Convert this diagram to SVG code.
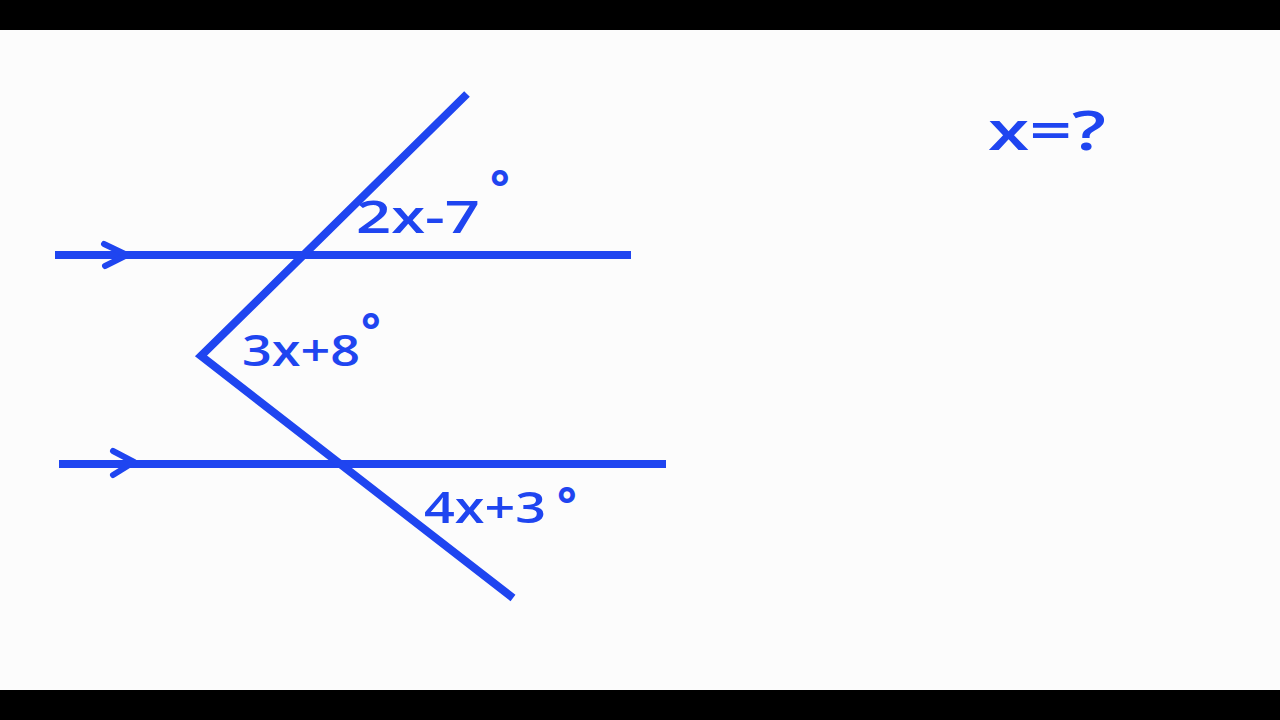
<svg xmlns="http://www.w3.org/2000/svg" width="1280" height="720" viewBox="0 0 1280 720">
<style>
.ln{stroke:#1f45f0;stroke-width:8;fill:none;stroke-linecap:butt;stroke-linejoin:miter}
.ar{stroke:#1f45f0;stroke-width:6;fill:none;stroke-linecap:round;stroke-linejoin:round}
.t{font-family:"Open Sans","Liberation Sans",sans-serif;fill:#1f45f0;font-weight:600}
.d{font-size:46px;font-weight:700}
</style>
<rect x="0" y="0" width="1280" height="720" fill="#fcfcfc"/>
<rect x="0" y="0" width="1280" height="30" fill="#000"/>
<rect x="0" y="690" width="1280" height="30" fill="#000"/>
<g id="connectors">
<line class="ln" x1="55" y1="255" x2="631" y2="255"/>
<line class="ln" x1="59" y1="464" x2="666" y2="464"/>
<polyline class="ln" points="467,94 201,356 513,598"/>
<polyline class="ar" points="104,244 127,255 105,266"/>
<polyline class="ar" points="113,451 134,462 113,475"/>
</g>
<g id="label-top">
<text class="t" font-size="46"><tspan x="356" y="233" textLength="124" lengthAdjust="spacingAndGlyphs">2x-7</tspan><tspan class="d" x="490" y="204">°</tspan></text>
</g>
<g id="label-mid">
<text class="t" font-size="44"><tspan x="242" y="366" textLength="118" lengthAdjust="spacingAndGlyphs">3x+8</tspan><tspan class="d" x="361" y="347">°</tspan></text>
</g>
<g id="label-bot">
<text class="t" font-size="44"><tspan x="424" y="523" textLength="122" lengthAdjust="spacingAndGlyphs">4x+3</tspan><tspan class="d" x="557" y="521">°</tspan></text>
</g>
<g id="question">
<text class="t" x="988" y="150" font-size="54" textLength="118" lengthAdjust="spacingAndGlyphs">x=?</text>
</g>
</svg>
